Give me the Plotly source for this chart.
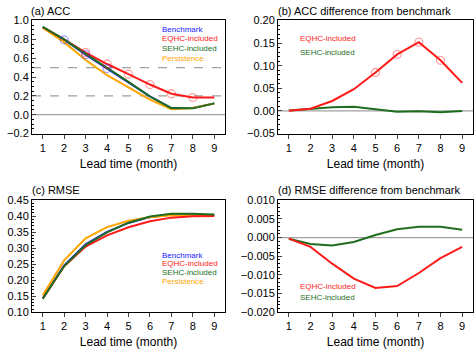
import plotly.graph_objects as go

lead = [1, 2, 3, 4, 5, 6, 7, 8, 9]

# (a) ACC
acc_bench = [0.93, 0.795, 0.638, 0.49, 0.345, 0.195, 0.07, 0.07, 0.12]
acc_eqhc = [0.93, 0.80, 0.66, 0.538, 0.43, 0.32, 0.222, 0.182, 0.182]
acc_sehc = [0.931, 0.80, 0.646, 0.499, 0.348, 0.193, 0.069, 0.067, 0.12]
acc_pers = [0.92, 0.77, 0.58, 0.42, 0.29, 0.16, 0.058, 0.07, 0.118]
acc_bench_sig = [2, 3, 4]
acc_eqhc_sig = [3, 4, 5, 6, 7, 8]

# (b) ACC difference from benchmark
dacc_eqhc = [0.0005, 0.005, 0.022, 0.048, 0.085, 0.125, 0.152, 0.112, 0.062]
dacc_sehc = [0.001, 0.005, 0.008, 0.009, 0.003, -0.002, -0.001, -0.003, 0.0]
dacc_eqhc_sig = [5, 6, 7, 8]

# (c) RMSE
rmse_bench = [0.143, 0.246, 0.312, 0.351, 0.379, 0.397, 0.405, 0.405, 0.403]
rmse_eqhc = [0.1427, 0.2435, 0.305, 0.340, 0.3655, 0.384, 0.3955, 0.3995, 0.4005]
rmse_sehc = [0.1427, 0.2443, 0.310, 0.3498, 0.3797, 0.3992, 0.4079, 0.4079, 0.4051]
rmse_pers = [0.153, 0.262, 0.331, 0.366, 0.386, 0.397, 0.403, 0.403, 0.402]

# (d) RMSE difference from benchmark
drmse_eqhc = [-0.0003, -0.0025, -0.007, -0.011, -0.0135, -0.013, -0.0095, -0.0055, -0.0025]
drmse_sehc = [-0.0003, -0.0017, -0.0021, -0.0012, 0.0007, 0.0022, 0.0029, 0.0029, 0.0021]

BLUE = "#2020ff"
RED = "#ff1a1a"
GREEN = "#1e6e1e"
ORANGE = "#ffa500"
FONT = "Liberation Sans, Arial, sans-serif"

fig = go.Figure()

W, H = 474, 354
def xd(a, b):
    return [a / W, b / W]
def yd(top, bot):
    return [1 - bot / H, 1 - top / H]

panels = {
    1: dict(x=xd(32, 225), y=yd(15, 132), yr=[-0.2, 1.0], dt=0.2, fmt=".1f", minor=0.05),
    2: dict(x=xd(278, 473), y=yd(15, 132), yr=[-0.05, 0.20], dt=0.05, fmt=".2f", minor=0.01),
    3: dict(x=xd(32, 225), y=yd(201, 317), yr=[0.10, 0.45], dt=0.05, fmt=".2f", minor=0.01),
    4: dict(x=xd(278, 473), y=yd(201, 317), yr=[-0.020, 0.010], dt=0.005, fmt=".3f", minor=0.001),
}

layout = dict(
    width=W, height=H, margin=dict(l=0, r=0, t=0, b=0),
    paper_bgcolor="white", plot_bgcolor="white", showlegend=False,
    font=dict(family=FONT, size=11, color="black"),
)
for i, p in panels.items():
    s = "" if i == 1 else str(i)
    layout["xaxis" + s] = dict(
        domain=p["x"], anchor="y" + s, range=[0.5, 9.5], tickvals=lead,
        ticks="outside", ticklen=4, showline=True, mirror=True, linecolor="black",
        linewidth=1, showgrid=False, zeroline=False,
        tickfont=dict(size=11, family=FONT),
        title=dict(text="Lead time (month)", font=dict(size=12, family=FONT), standoff=6),
    )
    layout["yaxis" + s] = dict(
        domain=p["y"], anchor="x" + s, range=p["yr"], dtick=p["dt"], tick0=0,
        tickformat=p["fmt"], ticks="inside", ticklen=4, showline=True, mirror=True,
        linecolor="black", linewidth=1, showgrid=False, zeroline=False,
        tickfont=dict(size=11, family=FONT),
        minor=dict(ticks="inside", ticklen=2, dtick=p["minor"], tick0=0, tickcolor="black"),
    )
fig.update_layout(**layout)

def ref_line(xa, ya, yv, dash):
    fig.add_shape(type="line", xref=xa + " domain", yref=ya, x0=0, x1=1, y0=yv, y1=yv,
                  line=dict(color="#a0a0a0", width=1.2, dash=dash), layer="below")

ref_line("x", "y", 0.5, "dash")
ref_line("x", "y", 0.2, "dash")
ref_line("x", "y", 0.0, "solid")
ref_line("x2", "y2", 0.0, "solid")
ref_line("x4", "y4", 0.0, "solid")

def line(x, y, color, xa, ya):
    fig.add_trace(go.Scatter(x=x, y=y, mode="lines", line=dict(color=color, width=2),
                             xaxis=xa, yaxis=ya, hoverinfo="skip"))

def circles(xs, allx, ally, color, xa, ya):
    yy = [ally[allx.index(v)] for v in xs]
    fig.add_trace(go.Scatter(x=xs, y=yy, mode="markers", xaxis=xa, yaxis=ya,
                             marker=dict(symbol="circle-open", size=8, color=color,
                                         line=dict(width=1.3), opacity=0.4),
                             hoverinfo="skip"))

# (a)
line(lead, acc_bench, BLUE, "x", "y")
line(lead, acc_pers, ORANGE, "x", "y")
line(lead, acc_eqhc, RED, "x", "y")
line(lead, acc_sehc, GREEN, "x", "y")
circles(acc_bench_sig, lead, acc_bench, BLUE, "x", "y")
circles(acc_eqhc_sig, lead, acc_eqhc, RED, "x", "y")

# (b)
line(lead, dacc_sehc, GREEN, "x2", "y2")
line(lead, dacc_eqhc, RED, "x2", "y2")
circles(dacc_eqhc_sig, lead, dacc_eqhc, RED, "x2", "y2")

# (c)
line(lead, rmse_bench, BLUE, "x3", "y3")
line(lead, rmse_pers, ORANGE, "x3", "y3")
line(lead, rmse_eqhc, RED, "x3", "y3")
line(lead, rmse_sehc, GREEN, "x3", "y3")

# (d)
line(lead, drmse_sehc, GREEN, "x4", "y4")
line(lead, drmse_eqhc, RED, "x4", "y4")

def txt(x, y, s, color="black", size=8):
    fig.add_annotation(x=x / W, y=1 - y / H, xref="paper", yref="paper", text=s,
                       showarrow=False, xanchor="left", yanchor="middle",
                       font=dict(color=color, size=size, family=FONT))

labels4 = [("Benchmark", BLUE), ("EQHC-included", RED), ("SEHC-included", GREEN), ("Persistence", ORANGE)]
for k, (s, c) in enumerate(labels4):
    txt(160, 24 + 10 * k, s, c)
    txt(160, 258 + 9 * k, s, c)
txt(298, 34, "EQHC-included", RED)
txt(298, 48, "SEHC-included", GREEN)
txt(298, 290, "EQHC-included", RED)
txt(298, 302, "SEHC-included", GREEN)

txt(29, 5, "(a) ACC", size=11)
txt(276, 5, "(b) ACC difference from benchmark", size=11)
txt(30, 190, "(c) RMSE", size=11)
txt(276, 190, "(d) RMSE difference from benchmark", size=11)

fig.write_html("out.html")
